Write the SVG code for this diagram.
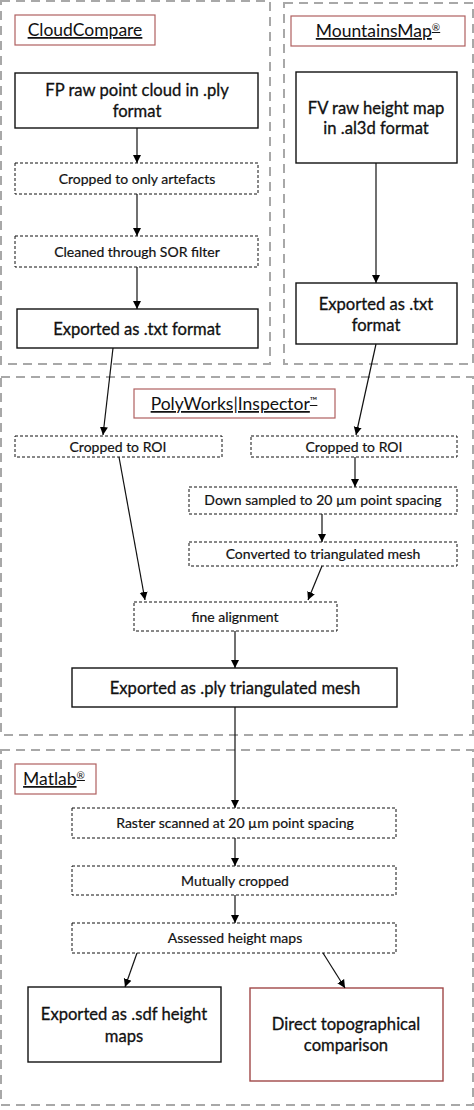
<svg xmlns="http://www.w3.org/2000/svg" width="474" height="1110" viewBox="0 0 474 1110">
<defs>
<marker id="ah" viewBox="0 0 10 10" refX="10" refY="5" markerWidth="8" markerHeight="9" markerUnits="userSpaceOnUse" orient="auto">
<path d="M0,0 L10,5 L0,10 z" fill="#000"/>
</marker>
<style>
.grp{fill:none;stroke:#a8a8a8;stroke-width:2;stroke-dasharray:9,6}
.title{fill:#fff;stroke:#b06060;stroke-width:1.2}
.solid{fill:#fff;stroke:#111;stroke-width:1.4}
.red{fill:#fff;stroke:#a04848;stroke-width:1.4}
.dash{fill:#fff;stroke:#111;stroke-width:1;stroke-dasharray:3,2}
text{font-family:Lato,"Open Sans","Liberation Sans",sans-serif;fill:#111;text-anchor:middle}
.big{font-size:16.6px;stroke:#111;stroke-width:0.3}
.sm{font-size:14px;stroke:#111;stroke-width:0.2}
.tt{font-size:17.5px;text-decoration:underline}
.con{stroke:#111;stroke-width:1.2;fill:none;marker-end:url(#ah)}
</style>
</defs>
<rect width="474" height="1110" fill="#fff"/>
<g id="groups">
<rect class="grp" x="1" y="1" width="269" height="363"/>
<rect class="grp" x="284" y="3" width="189" height="361"/>
<rect class="grp" x="1" y="377" width="472" height="358"/>
<rect class="grp" x="1" y="750" width="472" height="355"/>
</g>
<g id="t-cloudcompare"><rect class="title" x="15" y="15" width="140" height="30"/><text class="tt" x="85" y="36">CloudCompare</text></g>
<g id="t-mountainsmap"><rect class="title" x="291" y="16" width="174" height="30"/><text class="tt" x="378" y="37">MountainsMap<tspan font-size="10" dy="-6">®</tspan></text></g>
<g id="t-polyworks"><rect class="title" x="134" y="389" width="201" height="29"/><text class="tt" x="234" y="410">PolyWorks|Inspector<tspan font-size="10" dy="-6">™</tspan></text></g>
<g id="t-matlab"><rect class="title" x="15" y="764" width="81" height="30"/><text class="tt" x="54" y="785">Matlab<tspan font-size="10" dy="-6">®</tspan></text></g>
<g id="n-fp"><rect class="solid" x="15" y="73" width="243" height="55"/><text class="big" x="137" y="96">FP raw point cloud in .ply</text><text class="big" x="137" y="117">format</text></g>
<g id="n-crop1"><rect class="dash" x="15" y="163" width="243" height="31"/><text class="sm" x="137" y="184">Cropped to only artefacts</text></g>
<g id="n-sor"><rect class="dash" x="15" y="236" width="243" height="31"/><text class="sm" x="137" y="257">Cleaned through SOR filter</text></g>
<g id="n-txt1"><rect class="solid" x="17" y="309" width="241" height="39"/><text class="big" x="137" y="335">Exported as .txt format</text></g>
<g id="n-fv"><rect class="solid" x="296" y="72" width="161" height="91"/><text class="big" x="376" y="114">FV raw height map</text><text class="big" x="376" y="134">in .al3d format</text></g>
<g id="n-txt2"><rect class="solid" x="296" y="283" width="161" height="61"/><text class="big" x="376" y="310">Exported as .txt</text><text class="big" x="376" y="331">format</text></g>
<g id="n-roi1"><rect class="dash" x="15" y="436" width="207" height="21"/><text class="sm" x="118" y="451.5">Cropped to ROI</text></g>
<g id="n-roi2"><rect class="dash" x="251" y="436" width="206" height="21"/><text class="sm" x="354" y="451.5">Cropped to ROI</text></g>
<g id="n-down"><rect class="dash" x="189" y="487" width="268" height="27"/><text class="sm" x="323" y="505">Down sampled to 20 µm point spacing</text></g>
<g id="n-mesh"><rect class="dash" x="189" y="542" width="268" height="24"/><text class="sm" x="323" y="559">Converted to triangulated mesh</text></g>
<g id="n-fine"><rect class="dash" x="134" y="602" width="203" height="29"/><text class="sm" x="235" y="621.5">fine alignment</text></g>
<g id="n-ply"><rect class="solid" x="72" y="668" width="325" height="39"/><text class="big" x="235" y="694">Exported as .ply triangulated mesh</text></g>
<g id="n-raster"><rect class="dash" x="72" y="808" width="324" height="30"/><text class="sm" x="235" y="828">Raster scanned at 20 µm point spacing</text></g>
<g id="n-mutual"><rect class="dash" x="72" y="866" width="324" height="29"/><text class="sm" x="235" y="885.5">Mutually cropped</text></g>
<g id="n-assessed"><rect class="dash" x="72" y="923" width="324" height="30"/><text class="sm" x="235" y="942.5">Assessed height maps</text></g>
<g id="n-sdf"><rect class="solid" x="28" y="987" width="193" height="75"/><text class="big" x="124" y="1020">Exported as .sdf height</text><text class="big" x="124" y="1042">maps</text></g>
<g id="n-direct"><rect class="red" x="250" y="988" width="193" height="93"/><text class="big" x="346" y="1030">Direct topographical</text><text class="big" x="346" y="1051">comparison</text></g>
<g id="connectors">
<line class="con" x1="137" y1="128" x2="137" y2="163"/>
<line class="con" x1="137" y1="194" x2="137" y2="236"/>
<line class="con" x1="137" y1="267" x2="137" y2="309"/>
<line class="con" x1="376" y1="163" x2="376" y2="283"/>
<line class="con" x1="113" y1="348" x2="103" y2="435"/>
<line class="con" x1="376" y1="344" x2="356" y2="435"/>
<line class="con" x1="355" y1="457" x2="355" y2="487"/>
<line class="con" x1="322" y1="514" x2="322" y2="542"/>
<line class="con" x1="119" y1="457" x2="145" y2="600"/>
<line class="con" x1="322" y1="566" x2="308" y2="600"/>
<line class="con" x1="235" y1="631" x2="235" y2="668"/>
<line class="con" x1="235" y1="707" x2="235" y2="808"/>
<line class="con" x1="235" y1="838" x2="235" y2="866"/>
<line class="con" x1="235" y1="895" x2="235" y2="923"/>
<line class="con" x1="137" y1="953" x2="125" y2="987"/>
<line class="con" x1="323" y1="953" x2="345" y2="988"/>
</g>
</svg>
